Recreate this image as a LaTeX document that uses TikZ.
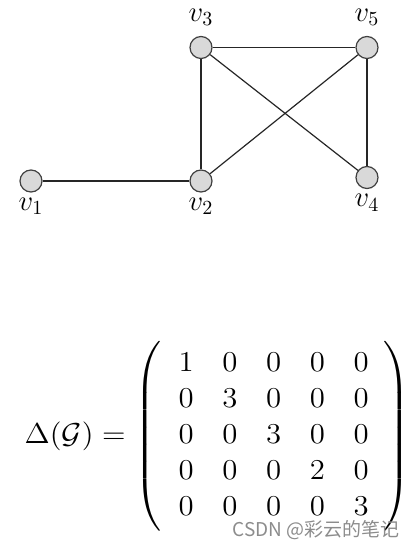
\documentclass[tikz,border=0pt]{standalone}
\usepackage{amsmath, amssymb}
\usepackage{fontspec}
\newfontfamily\cjkfont{Noto Sans CJK SC}
\usetikzlibrary{positioning}

\begin{document}
\begin{tikzpicture}[x=0.5pt,y=-0.5pt,node distance=2cm,on grid,auto]
    \tikzstyle{vertex}=[shape=circle,draw=black!75,fill=black!15,line width=0.6pt,minimum size=11pt,inner sep=0pt]
    \tikzstyle{vlabel}=[font=\Large,inner sep=5pt]
    \tikzstyle{watermark}=[font=\cjkfont\fontsize{9.5}{11}\selectfont,text=black!45,inner sep=0pt]
    \useasboundingbox (0,0) rectangle (418,550);

    \node[vertex, label={[vlabel,label distance=-2.5pt]below:$v_1$}] (V1) at (31,181) {};
    \node[vertex, right=85pt of V1, label={[vlabel,label distance=-2.5pt]below:$v_2$}] (V2) {};
    \node[vertex, above=66.75pt of V2, label={[vlabel]above:$v_3$}] (V3) {};
    \node[vertex, right=83pt of V3, label={[vlabel]above:$v_5$}] (V5) {};
    \node[vertex, below=65pt of V5, label={[vlabel,label distance=-2.5pt]below:$v_4$}] (V4) {};

    \path[draw, line width=0.6pt, black!85]
    (V1) edge (V2)
    (V2) edge (V3)
    (V3) edge (V5)
    (V5) edge (V4)
    (V3) edge (V4)
    (V2) edge (V5)
    ;

    % degree matrix
    \node[inner sep=0pt, anchor=west, xscale=1.07, transform shape] (D) at (24.3,436) {\Large
      \setlength{\arraycolsep}{6.7pt}\delimitershortfall=0pt
      $\Delta(\mathcal{G}) = \left(\begin{array}{@{\hspace{8.2pt}}ccccc}
        1 & 0 & 0 & 0 & 0\\
        0 & 3 & 0 & 0 & 0\\
        0 & 0 & 3 & 0 & 0\\
        0 & 0 & 0 & 2 & 0\\
        0 & 0 & 0 & 0 & 3
      \end{array}\right)$};

    \node[watermark, anchor=west] (W) at (232,530) {CSDN @彩云的笔记};
\end{tikzpicture}
\end{document}
